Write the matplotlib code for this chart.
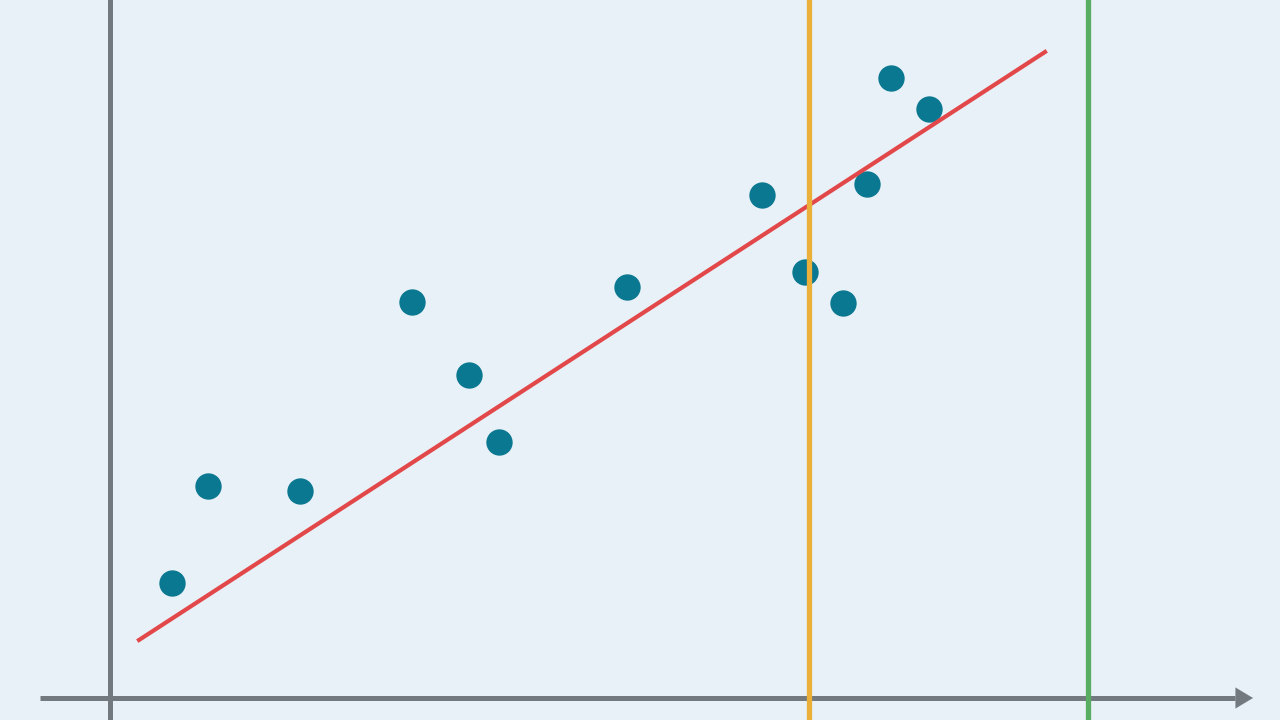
import matplotlib.pyplot as plt

# data points (origin at axis crossing)
x_points = [6.2, 9.8, 19.0, 30.2, 35.9, 38.9, 51.7, 65.2, 69.5, 73.3, 75.7, 78.1, 81.9]
y_points = [11.5, 21.2, 20.7, 39.6, 32.3, 25.6, 41.1, 50.3, 42.6, 39.5, 51.4, 62.0, 58.9]

# regression line
line_x = [2.9, 93.5]
slope = 0.649
intercept = 3.92

# vertical markers
x_orange = 69.9
x_green = 97.8

bg = '#e8f1f7'
fig = plt.figure(figsize=(12.8, 7.2), dpi=100, facecolor=bg)
ax = fig.add_axes([0, 0, 1, 1])
ax.set_facecolor(bg)
ax.set_xlim(-11, 117)
ax.set_ylim(-2.2, 69.8)
ax.axis('off')

# axes
axis_col = '#727a7f'
ax.axvline(0, color=axis_col, lw=3.6, zorder=1)
ax.plot([-7, 112.5], [0, 0], color=axis_col, lw=3.6, zorder=1, solid_capstyle='butt')
ax.annotate('', xy=(114.3, 0), xytext=(112.0, 0),
            arrowprops=dict(arrowstyle='-|>,head_length=1.25,head_width=0.75',
                            color=axis_col, lw=0.1, shrinkA=0, shrinkB=0), zorder=1)

# points
ax.scatter(x_points, y_points, s=360, color='#0b7891', zorder=2, linewidths=0)

# regression line
line_y = [slope * v + intercept for v in line_x]
ax.plot(line_x, line_y, color='#e2484a', lw=3.0, zorder=3)

# vertical lines
ax.axvline(x_orange, color='#eab03a', lw=3.8, zorder=4)
ax.axvline(x_green, color='#58ad62', lw=3.8, zorder=4)

fig.savefig('out.png', dpi=100, facecolor=bg)
